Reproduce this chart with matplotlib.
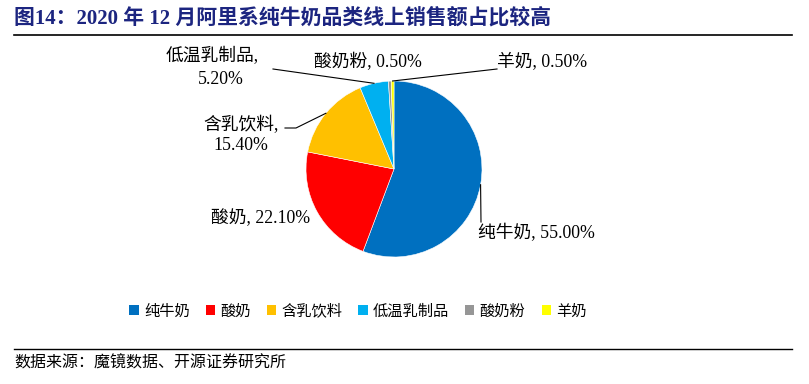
import matplotlib
matplotlib.use("Agg")
import matplotlib.pyplot as plt
import numpy as np
from matplotlib.lines import Line2D
from matplotlib.patches import Patch

categories = ["纯牛奶", "酸奶", "含乳饮料", "低温乳制品", "酸奶粉", "羊奶"]
values = [55.0, 22.1, 15.4, 5.2, 0.5, 0.5]
colors = ["#0070C0", "#FF0000", "#FFC000", "#00B0F0", "#969696", "#FFFF00"]
title = "图14：2020 年 12 月阿里系纯牛奶品类线上销售额占比较高"
source = "数据来源：魔镜数据、开源证券研究所"

W, H = 809, 384
fig = plt.figure(figsize=(W / 100, H / 100), dpi=100)
FAM = ["Liberation Serif", "Noto Sans CJK SC"]
LFS = 12.8

def fx(px):
    return px / W

def fy(py):
    return 1 - py / H

# pie axes: centre (394,169) radius 88 px
cx, cy, r = 394, 169, 88
ax = fig.add_axes([fx(cx - r), (H - cy - r) / H, 2 * r / W, 2 * r / H])
ax.pie(values, colors=colors, startangle=90, counterclock=False,
       wedgeprops=dict(linewidth=0.4, edgecolor="white"))
ax.set_xlim(-1, 1)
ax.set_ylim(-1, 1)
ax.axis("off")

# wedge mid angles from the data
tot = sum(values)
cum = np.cumsum([0] + values)
mids = [90 - 360 * (cum[i] + values[i] / 2) / tot for i in range(len(values))]

def anchor(i):
    a = np.deg2rad(mids[i])
    return np.cos(a), np.sin(a)

def lab(i, txt, xy_px, ha="left", va="center", line_pts=None):
    fig.text(fx(xy_px[0]), fy(xy_px[1]), txt, ha=ha, va=va, fontsize=LFS,
             family=FAM, color="black")
    if line_pts is not None:
        ax_x, ax_y = anchor(i)
        disp = ax.transData.transform((ax_x, ax_y))
        fpx = disp[0]
        fpy = H - disp[1]
        xs = [fpx] + [p[0] for p in line_pts]
        ys = [fpy] + [p[1] for p in line_pts]
        fig.add_artist(Line2D([fx(x) for x in xs], [fy(y) for y in ys],
                              transform=fig.transFigure, color="black", lw=0.8))

fmt = lambda v: f"{v:.2f}%"
lab(0, f"{categories[0]}, {fmt(values[0])}", (478, 233), line_pts=[(481, 222)])
lab(1, f"{categories[1]}, {fmt(values[1])}", (211, 218))
lab(2, f"{categories[2]},", (203, 125), line_pts=[(296, 128), (285, 128)])
fig.text(fx(213), fy(146), fmt(values[2]), ha="left", va="center", fontsize=LFS, family=FAM)
lab(3, f"{categories[3]},", (166, 56), line_pts=[(273, 69)])
fig.text(fx(198), fy(80), fmt(values[3]), ha="left", va="center", fontsize=LFS, family=FAM)
lab(4, f"{categories[4]}, {fmt(values[4])}", (314, 62))
lab(5, f"{categories[5]}, {fmt(values[5])}", (497, 62), line_pts=[(497, 69)])

# legend
handles = [Patch(facecolor=c, edgecolor="none") for c in colors]
leg = fig.legend(handles, categories, loc="center", bbox_to_anchor=(fx(358), fy(311)),
                 ncol=6, frameon=False, handlelength=0.6, handleheight=0.6,
                 handletextpad=0.35, columnspacing=1.05,
                 prop=dict(family=FAM, size=11))

# title and rules
fig.text(fx(14), fy(18), title, ha="left", va="center", fontsize=15, fontweight="bold",
         family=["Liberation Serif", "Noto Sans CJK SC"], color="#1C2580")
fig.add_artist(Line2D([fx(14), fx(792)], [fy(35), fy(35)], transform=fig.transFigure,
                      color="black", lw=1.2))
fig.add_artist(Line2D([fx(14), fx(792)], [fy(349), fy(349)], transform=fig.transFigure,
                      color="black", lw=1.0))
fig.text(fx(14), fy(363), source, ha="left", va="center", fontsize=11.5,
         family=["Noto Sans CJK SC"], color="black")

fig.savefig("out.png", dpi=100, facecolor="white")
